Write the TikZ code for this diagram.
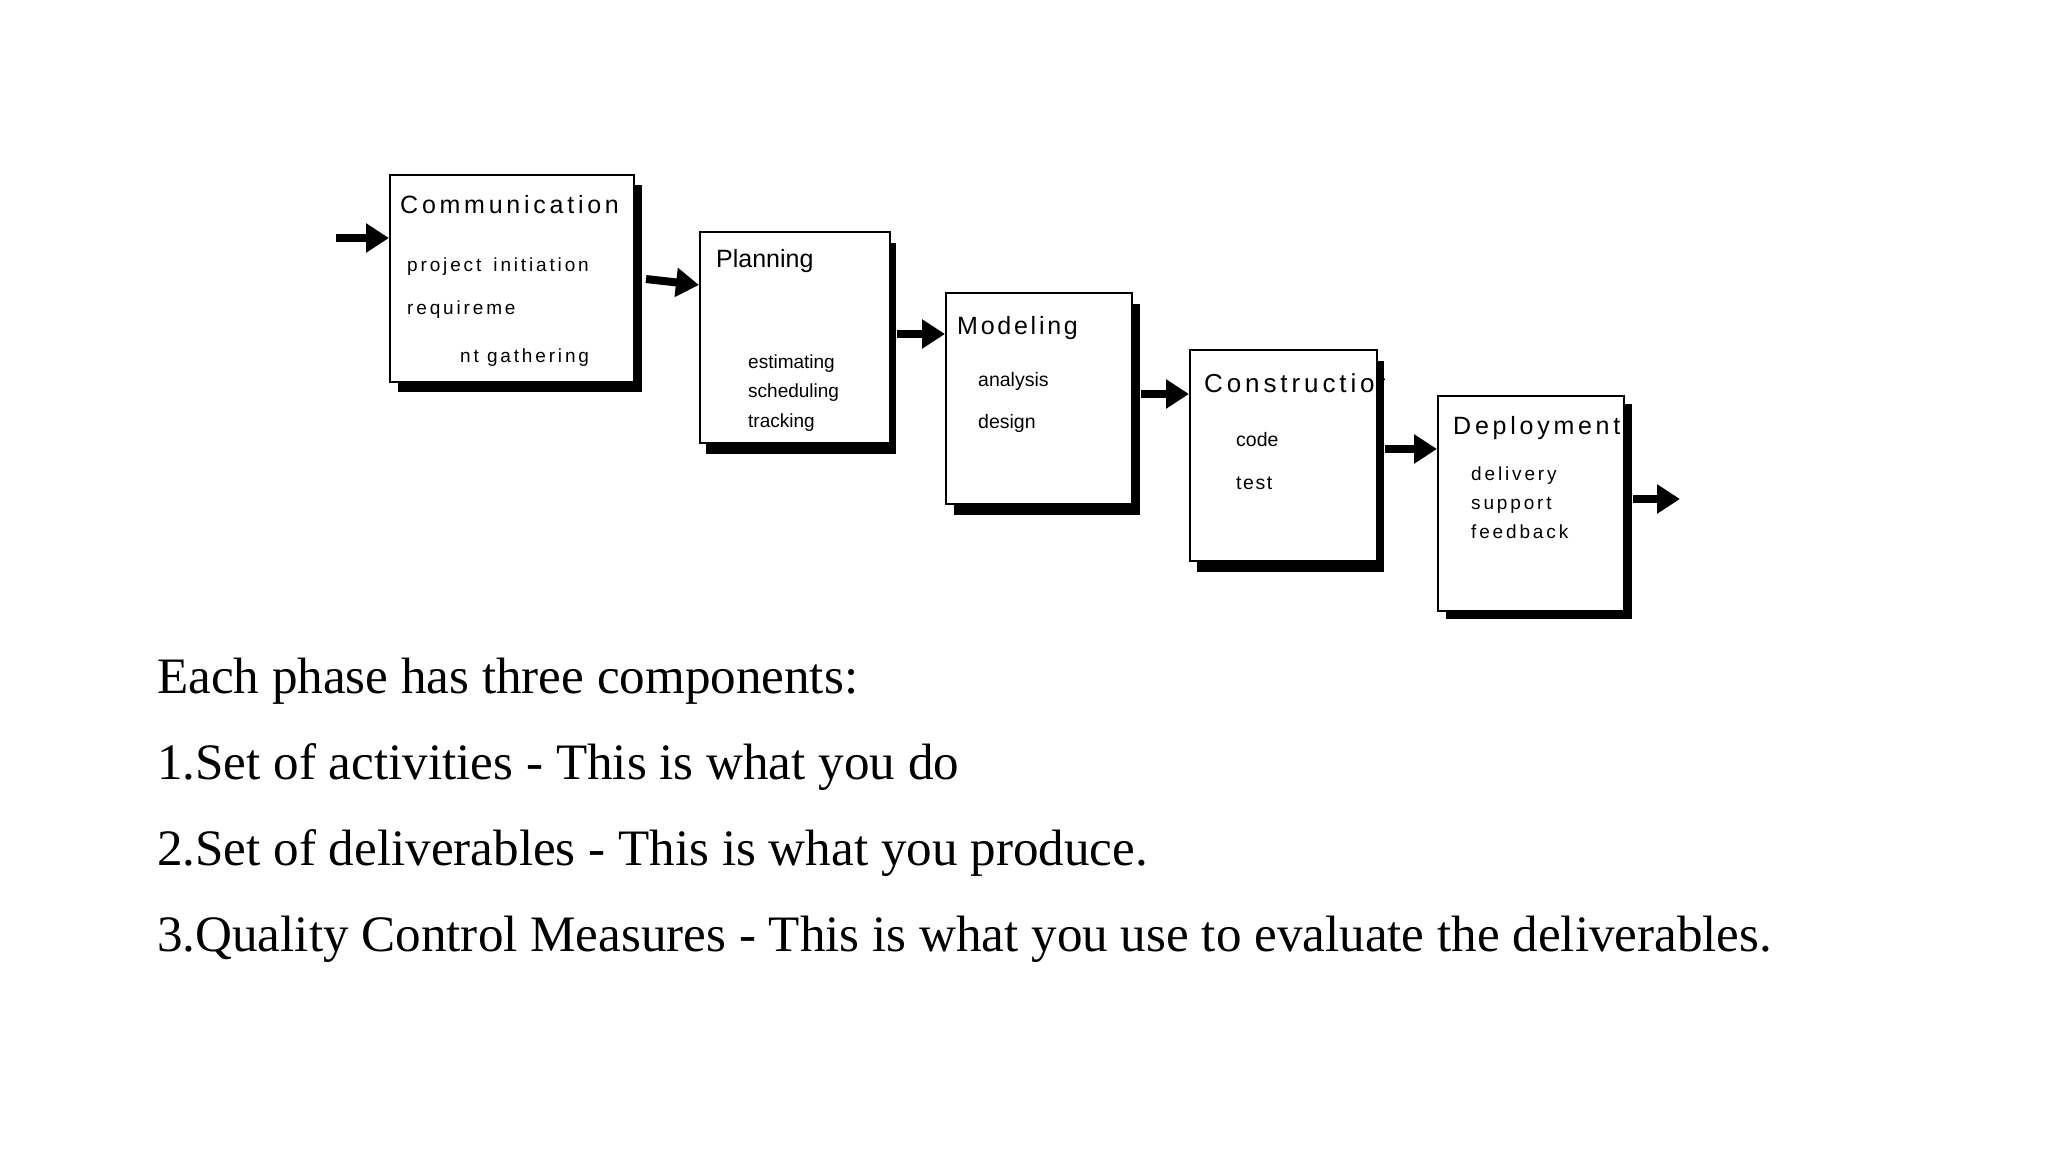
\documentclass[tikz,border=0pt]{standalone}
\usepackage{fontspec}
\setmainfont{Liberation Serif}
\newfontfamily\sansA{Liberation Sans}
\newfontfamily\sansLS[LetterSpace=15]{Liberation Sans}
\newfontfamily\sansLSm[LetterSpace=11]{Liberation Sans}
\newfontfamily\sansLSs[LetterSpace=8]{Liberation Sans}
\usetikzlibrary{arrows.meta,shadows,calc}

\begin{document}
\begin{tikzpicture}[x=1pt,y=-1pt,
  phase/.style={draw, line width=2pt, fill=white, inner sep=0pt, anchor=north west},
  shd/.style 2 args={general shadow={shadow xshift=#1, shadow yshift=#2, fill=black}},
  lbl/.style={anchor=base west, inner sep=0pt},
  title/.style={lbl, font=\sansLS\fontsize{25}{25}\selectfont},
  titleplain/.style={lbl, font=\sansA\fontsize{25}{25}\selectfont},
  itemls/.style={lbl, font=\sansLS\fontsize{19}{19}\selectfont},
  item/.style={lbl, font=\sansA\fontsize{19.5}{19.5}\selectfont},
  body/.style={lbl, font=\fontsize{51.1}{60}\selectfont},
  flow/.style={line width=8pt, -{Triangle[length=23pt,width=28pt]}},
]
\useasboundingbox (0,0) rectangle (2048,1152);
\fill[white] (0,0) rectangle (2048,1152);

% phase boxes
\node[phase, shd={8pt}{-10pt}, minimum width=244pt, minimum height=207pt] (comm) at (389,174) {};
\node[phase, shd={6pt}{-11pt}, minimum width=190pt, minimum height=211pt] (plan) at (699,231) {};
\node[phase, shd={8pt}{-11pt}, minimum width=186pt, minimum height=211pt] (model) at (945,292) {};
\node[phase, shd={7pt}{-11pt}, minimum width=187pt, minimum height=211pt] (constr) at (1189,349) {};
\node[phase, shd={8pt}{-8pt}, minimum width=186pt, minimum height=215pt] (deploy) at (1437,395) {};

% Communication
\node[title] (commT) at (400,213) {Communication};
\node[itemls] (commA) at (407,271) {project\hspace{4pt} initiation};
\node[itemls] (commB) at (407,314) {requireme};
\node[itemls] (commC) at (460,362) {nt gathering};

% Planning
\node[titleplain] (planT) at (716,267) {Planning};
\node[item, font=\sansA\fontsize{19}{19}\selectfont] (planA) at (748,368) {estimating};
\node[item, font=\sansA\fontsize{19}{19}\selectfont] (planB) at (748,397) {scheduling};
\node[item, font=\sansA\fontsize{19}{19}\selectfont] (planC) at (748,427) {tracking};

% Modeling
\node[title, font=\sansLSm\fontsize{25}{25}\selectfont] (modelT) at (957,334) {Modeling};
\node[item] (modelA) at (978,386) {analysis};
\node[item] (modelB) at (978,428) {design};

% Construction
\begin{scope}
\clip (1189,340) rectangle (1384,420);
\node[title, font=\sansLS\fontsize{26}{26}\selectfont] (constrT) at (1204,392) {Construction};
\end{scope}
\node[item] (constrA) at (1236,446) {code};
\node[lbl, font=\sansLSs\fontsize{19.5}{19.5}\selectfont] (constrB) at (1236,489) {test};

% Deployment
\node[title] (deployT) at (1453,434) {Deployment};
\node[itemls] (deployA) at (1471,480) {delivery};
\node[itemls] (deployB) at (1471,509) {support};
\node[itemls] (deployC) at (1471,538) {feedback};

% connectors
\coordinate (in) at (336,238);
\coordinate (out) at (1680,499);
\draw[flow] (in) -- ($(comm.north west)+(0,64)$);
\draw[flow] ($(comm.north east)+(11,105)$) -- ($(plan.north west)+(0,54)$);
\draw[flow] ($(plan.north east)+(6,103)$) -- ($(model.north west)+(0,42)$);
\draw[flow] ($(model.north east)+(8,102)$) -- ($(constr.north west)+(0,45)$);
\draw[flow] ($(constr.north east)+(7,100)$) -- ($(deploy.north west)+(0,54)$);
\draw[flow] ($(deploy.north east)+(8,104)$) -- (out);

% explanatory text
\node[body] (l1) at (157,693) {Each phase has three components:};
\node[body] (l2) at (157,779) {1.Set of activities - This is what you do};
\node[body] (l3) at (157,865) {2.Set of deliverables - This is what you produce.};
\node[body] (l4) at (157,951) {3.Quality Control Measures - This is what you use to evaluate the deliverables.};
\end{tikzpicture}
\end{document}
